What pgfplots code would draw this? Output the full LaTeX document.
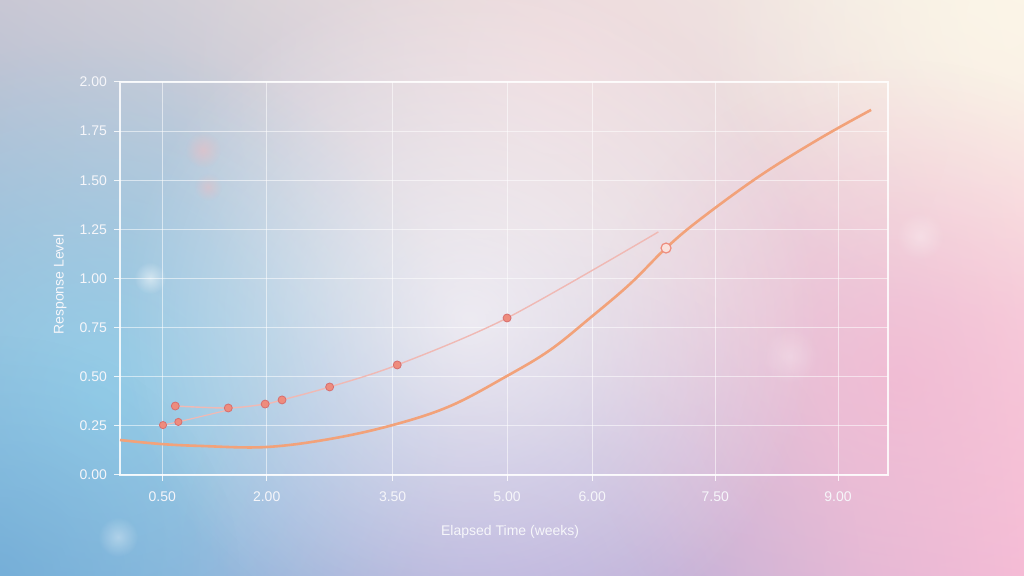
\documentclass[border=0pt]{standalone}
\usepackage{pgfplots}
\pgfplotsset{compat=1.18}
\usepackage{fontspec}
\setmainfont{Liberation Sans}
\usetikzlibrary{fadings,shadings}
\definecolor{bgTL}{RGB}{200,199,212}
\definecolor{bgTR}{RGB}{250,243,230}
\definecolor{bgBL}{RGB}{118,172,214}
\definecolor{bgBR}{RGB}{245,190,215}
\definecolor{cyanblob}{RGB}{145,212,238}
\definecolor{pinkblob}{RGB}{245,178,208}
\definecolor{toppink}{RGB}{246,218,222}
\definecolor{cream}{RGB}{252,246,232}
\definecolor{purpleblob}{RGB}{185,170,222}
\definecolor{deepblue}{RGB}{110,165,210}
\definecolor{bokehpink}{RGB}{235,190,195}
\definecolor{lineOrange}{RGB}{242,162,122}
\definecolor{lineLight}{RGB}{240,185,180}
\definecolor{markFill}{RGB}{238,140,125}
\definecolor{markDraw}{RGB}{215,110,110}
\definecolor{txt}{RGB}{246,246,250}
\tikzfading[name=softblob, inner color=transparent!0, outer color=transparent!100]
\begin{document}
\begin{tikzpicture}[x=1pt,y=1pt]
\useasboundingbox (0,0) rectangle (512,288);
\clip (0,0) rectangle (512,288);
\shade[upper left=bgTL, upper right=bgTR, lower left=bgBL, lower right=bgBR] (0,0) rectangle (512,288);
\fill[toppink, path fading=softblob, opacity=0.65] (280,258) circle (200);
\fill[cream, path fading=softblob, opacity=0.75] (500,280) circle (150);
\fill[cyanblob, path fading=softblob, opacity=0.75] (50,88) circle (180);
\fill[deepblue, path fading=softblob, opacity=0.5] (0,0) circle (120);
\fill[purpleblob, path fading=softblob, opacity=0.55] (260,0) circle (170);
\fill[pinkblob, path fading=softblob, opacity=0.6] (450,98) circle (160);
\fill[white, path fading=softblob, opacity=0.65] (235,128) circle (175);
\fill[bokehpink, path fading=softblob, opacity=0.6] (101.5,213) circle (9);
\fill[bokehpink, path fading=softblob, opacity=0.5] (104,194.5) circle (7);
\fill[white, path fading=softblob, opacity=0.5] (75,149) circle (8);
\fill[white, path fading=softblob, opacity=0.35] (59,19.5) circle (10);
\fill[white, path fading=softblob, opacity=0.3] (460,170) circle (12);
\fill[white, path fading=softblob, opacity=0.25] (395,110) circle (14);
\begin{axis}[
  at={(60pt,50.5pt)}, anchor=south west,
  scale only axis, width=384pt, height=196.5pt,
  xmin=0, xmax=10, ymin=0, ymax=2000,
  axis line style={white, opacity=0.85, line width=0.7pt},
  tick style={white, opacity=0.85, line width=0.5pt},
  tick pos=left,
  tick align=outside, major tick length=3pt, minor tick length=0pt,
  xtick={0.55,1.91,3.55,5.04,6.15,7.75,9.35},
  xticklabels={0.50,2.00,3.50,5.00,6.00,7.50,9.00},
  ytick={0,250,500,750,1000,1250,1500,1750,2000},
  yticklabels={0.00,0.25,0.50,0.75,1.00,1.25,1.50,1.75,2.00},
  minor x tick num=1,
  grid=major,
  xminorgrids=true,
  major grid style={white, opacity=0.55, line width=0.5pt},
  minor grid style={white, opacity=0.25, line width=0.4pt},
  ticklabel style={font=\fontsize{7}{8}\selectfont, text=txt},
  xticklabel style={yshift=-2pt},
  /pgf/number format/assume math mode=true,
  xlabel={Elapsed Time (weeks)},
  ylabel={Response Level},
  label style={font=\fontsize{7}{8}\selectfont, text=txt},
  xlabel style={at={(axis description cs:0.508,0)}, anchor=center, yshift=-28.5pt},
  ylabel style={at={(axis description cs:-0.078,0.485)}, anchor=center},
  clip=false,
]
% lower smooth curve
\addplot[lineOrange, line width=1.3pt, smooth, tension=0.6] coordinates {
 (0.00,178) (0.52,158) (1.04,148) (1.89,142) (2.73,183) (3.55,254)
 (4.30,351) (5.04,504) (5.60,636) (6.12,799) (6.64,972) (7.11,1155)
 (7.55,1300) (8.33,1522) (9.11,1712) (9.78,1858)
};
\addplot[only marks, mark=*, mark size=2.5pt, mark options={draw=markFill, fill={rgb,255:red,250;green,225;blue,220}, line width=0.6pt}] coordinates {(7.11,1155)};
% upper series with markers
\addplot[lineLight, line width=0.7pt, smooth, tension=0.5, mark=*, mark size=2pt,
  mark indices={1,2,3,4,5,6,7},
  mark options={draw=markDraw, fill=markFill, line width=0.4pt}] coordinates {
 (0.72,351) (1.41,341) (1.89,361) (2.11,382) (2.73,448) (3.61,560) (5.04,799) (7.01,1237)
};
% short lower series
\addplot[lineLight, line width=0.6pt, mark=*, mark size=1.8pt,
  mark indices={1,2},
  mark options={draw=markDraw, fill=markFill, line width=0.4pt}] coordinates {
 (0.56,254) (0.76,270) (1.41,331)
};
\end{axis}
\end{tikzpicture}
\end{document}
